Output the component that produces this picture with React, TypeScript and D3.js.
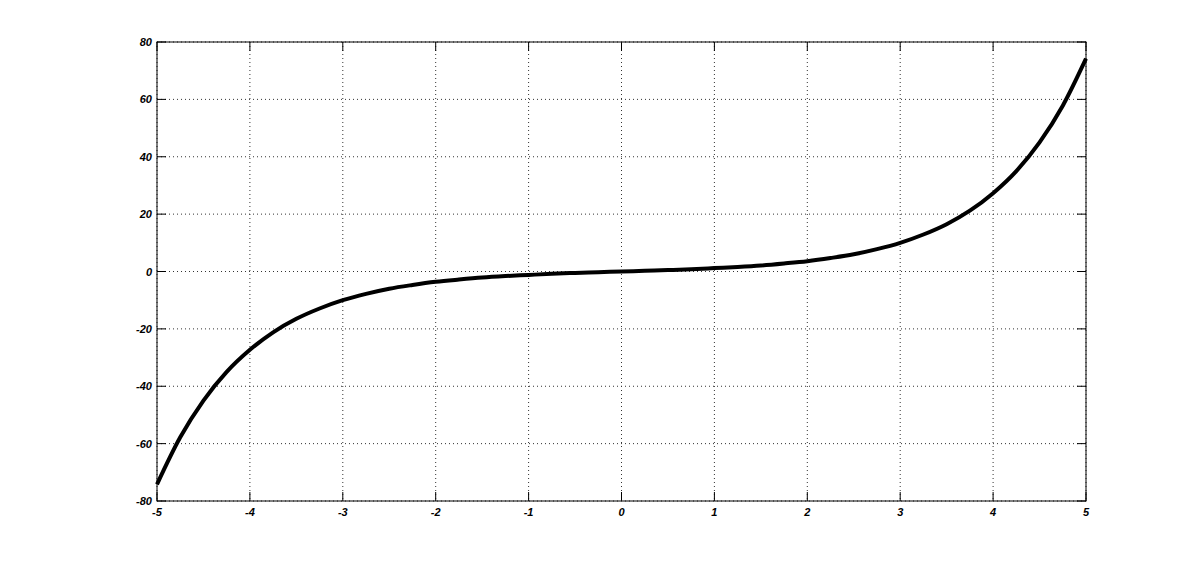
import React from "react";
import * as d3 from "d3";

const xs = [-5, -4.75, -4.5, -4.25, -4, -3.75, -3.5, -3.25, -3, -2.75, -2.5, -2.25, -2, -1.75, -1.5, -1.25, -1, -0.75, -0.5, -0.25, 0,
  0.25, 0.5, 0.75, 1, 1.25, 1.5, 1.75, 2, 2.25, 2.5, 2.75, 3, 3.25, 3.5, 3.75, 4, 4.25, 4.5, 4.75, 5];
const ys = [-74.2, -57.8, -45.0, -35.0, -27.3, -21.2, -16.5, -12.9, -10.0, -7.8, -6.0, -4.7, -3.6, -2.8, -2.1, -1.6, -1.2, -0.8, -0.5, -0.25, 0,
  0.25, 0.5, 0.8, 1.2, 1.6, 2.1, 2.8, 3.6, 4.7, 6.0, 7.8, 10.0, 12.9, 16.5, 21.2, 27.3, 35.0, 45.0, 57.8, 74.2];
const xTicks = [-5, -4, -3, -2, -1, 0, 1, 2, 3, 4, 5];
const yTicks = [-80, -60, -40, -20, 0, 20, 40, 60, 80];

const W = 1200, H = 564;
const L = 157, R = 1086, T = 42, B = 501;
const TICK = 9;

export default function App() {
  const x = d3.scaleLinear().domain([-5, 5]).range([L, R]);
  const y = d3.scaleLinear().domain([-80, 80]).range([B, T]);
  const line = d3.line<number>().x((_, i) => x(xs[i])).y((d) => y(d)).curve(d3.curveMonotoneX);
  const font = { fontFamily: "Liberation Sans, Arial, sans-serif", fontSize: 11, fontWeight: "bold", fontStyle: "italic" } as any;

  return (
    <div style={{ position: "fixed", left: 0, top: 0 }}>
      <svg width={W} height={H} style={{ display: "block", background: "#fff" }}>
        {xTicks.map((t) => (
          <g key={"x" + t}>
            <line x1={x(t)} x2={x(t)} y1={T} y2={B} stroke="#333" strokeWidth={1} strokeDasharray="1,3" />
            <line x1={x(t)} x2={x(t)} y1={B} y2={B - TICK} stroke="#000" />
            <line x1={x(t)} x2={x(t)} y1={T} y2={T + TICK} stroke="#000" />
            <text x={x(t)} y={B + 15} textAnchor="middle" style={font}>{t}</text>
          </g>
        ))}
        {yTicks.map((t) => (
          <g key={"y" + t}>
            <line x1={L} x2={R} y1={y(t)} y2={y(t)} stroke="#333" strokeWidth={1} strokeDasharray="1,3" />
            <line x1={L} x2={L + TICK} y1={y(t)} y2={y(t)} stroke="#000" />
            <line x1={R} x2={R - TICK} y1={y(t)} y2={y(t)} stroke="#000" />
            <text x={L - 5} y={y(t) + 4} textAnchor="end" style={font}>{t}</text>
          </g>
        ))}
        <rect x={L} y={T} width={R - L} height={B - T} fill="none" stroke="#000" strokeWidth={1} />
        <path d={line(ys) || ""} fill="none" stroke="#000" strokeWidth={4} strokeLinejoin="round" />
      </svg>
    </div>
  );
}
